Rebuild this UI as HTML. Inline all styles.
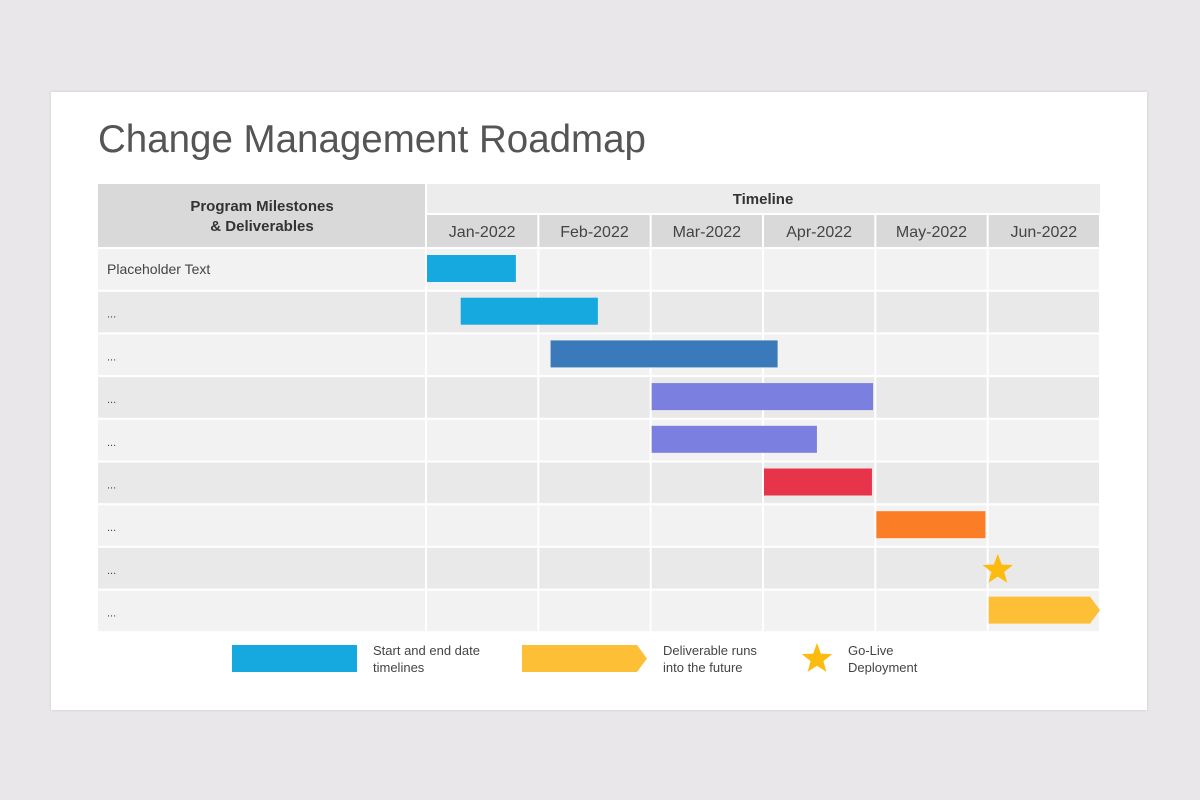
<!DOCTYPE html>
<html><head><meta charset="utf-8"><style>
body{margin:0;width:1200px;height:800px;background:#e9e7e9;font-family:"Liberation Sans",sans-serif;overflow:hidden}
#card{position:absolute;left:51px;top:92px;width:1096px;height:618px;background:#fff;box-shadow:0 0 3px rgba(0,0,0,.12)}
#title{position:absolute;left:98px;top:118px;font-size:38.5px;color:#555;letter-spacing:0}
svg{position:absolute;left:0;top:0}
</style></head><body>
<div id="card"></div>
<div id="title">Change Management Roadmap</div>
<svg id="chart" width="1200" height="800"></svg>
<script>
const months=["Jan-2022","Feb-2022","Mar-2022","Apr-2022","May-2022","Jun-2022"];
const rowLabels=["Placeholder Text","...","...","...","...","...","...","...","..."];
const barStarts=[0,0.3,1.1,2,2,3,4,null,5];
const barEnds=[0.8,1.53,3.13,3.98,3.48,3.97,4.98,null,6];
const barColors=["#15a9e0","#15a9e0","#3a7abb","#7a7fe0","#7a7fe0","#e8344a","#fb7d25",null,"#fdbf35"];
const starRow=7, starPos=5.09;
const arrowRow=8;
const NS="http://www.w3.org/2000/svg";
const svg=document.getElementById('chart');
const X0=426,X1=1100,L0=98,Y0=248,RH=42.7;
const xs=m=>X0+m*(X1-X0)/months.length;
const ys=r=>Y0+r*RH;
function mk(t,a,p){const e=document.createElementNS(NS,t);for(const k in a)e.setAttribute(k,a[k]);(p||svg).appendChild(e);return e;}
let h=mk('rect',{x:L0,y:184,width:X0-L0,height:64,fill:'#d9d9d9'});

let t=mk('text',{x:(L0+X0)/2,y:211,'text-anchor':'middle','font-size':15,'font-weight':'bold',fill:'#333'});t.textContent='Program Milestones';

t=mk('text',{x:(L0+X0)/2,y:231,'text-anchor':'middle','font-size':15,'font-weight':'bold',fill:'#333'});t.textContent='& Deliverables';

h=mk('rect',{x:X0,y:184,width:X1-X0,height:30,fill:'#ececec'});

t=mk('text',{x:(X0+X1)/2,y:204,'text-anchor':'middle','font-size':15,'font-weight':'bold',fill:'#333'});t.textContent='Timeline';

months.forEach((m,i)=>{
 const r=mk('rect',{x:xs(i),y:214,width:xs(i+1)-xs(i),height:34,fill:'#d9d9d9'});
 
 const tt=mk('text',{x:(xs(i)+xs(i+1))/2,y:237,'text-anchor':'middle','font-size':16,fill:'#444'});tt.textContent=m;
 
});
rowLabels.forEach((l,i)=>{
 const r=mk('rect',{x:L0,y:ys(i),width:X1-L0,height:RH,fill:i%2?'#e9e9e9':'#f2f2f2'});
 
 const tt=mk('text',{x:107,y:ys(i)+(i?27:26),'font-size':i?11:14,fill:'#444'});tt.textContent=l;
 
});
for(let i=0;i<=months.length;i++){const g=mk('line',{x1:xs(i),x2:xs(i),y1:i==0?184:214,y2:ys(rowLabels.length),stroke:'#fff','stroke-width':2});}
for(let r=0;r<=rowLabels.length;r++){const g=mk('line',{x1:L0,x2:X1,y1:ys(r),y2:ys(r),stroke:'#fff','stroke-width':2});}
mk('line',{x1:X0,x2:X1,y1:214,y2:214,stroke:'#fff','stroke-width':2});
barStarts.forEach((s,i)=>{
 if(s===null)return;
 const x=xs(s)+1,w=xs(barEnds[i])-xs(s)-1,y=ys(i)+7,hh=27;
 let b;
 if(i===arrowRow){b=mk('polygon',{points:`${x},${y} ${x+w-10},${y} ${x+w},${y+hh/2} ${x+w-10},${y+hh} ${x},${y+hh}`,fill:barColors[i]});}
 else b=mk('rect',{x:x,y:y,width:w,height:hh,fill:barColors[i]});
 
});
function star(cx,cy,R,fill){const p=[];for(let k=0;k<10;k++){const r=k%2?R*0.42:R,a=-Math.PI/2+k*Math.PI/5;p.push((cx+r*Math.cos(a)).toFixed(1)+','+(cy+r*Math.sin(a)).toFixed(1));}return mk('polygon',{points:p.join(' '),fill:fill});}
let st=star(xs(starPos),ys(starRow)+23,16,'#fdbb10');

let lg=mk('rect',{x:232,y:645,width:125,height:27,fill:'#15a9e0'});
lg=mk('polygon',{points:'522,645 637,645 647,658.5 637,672 522,672',fill:'#fdbf35'});
lg=star(817,659,16,'#fdbb10');
[[373,"Start and end date","timelines"],[663,"Deliverable runs","into the future"],[848,"Go-Live","Deployment"]].forEach(a=>{
 [1,2].forEach(j=>{const tt=mk('text',{x:a[0],y:655+(j-1)*17,'font-size':13,fill:'#444'});tt.textContent=a[j];});
});
</script>
</body></html>
